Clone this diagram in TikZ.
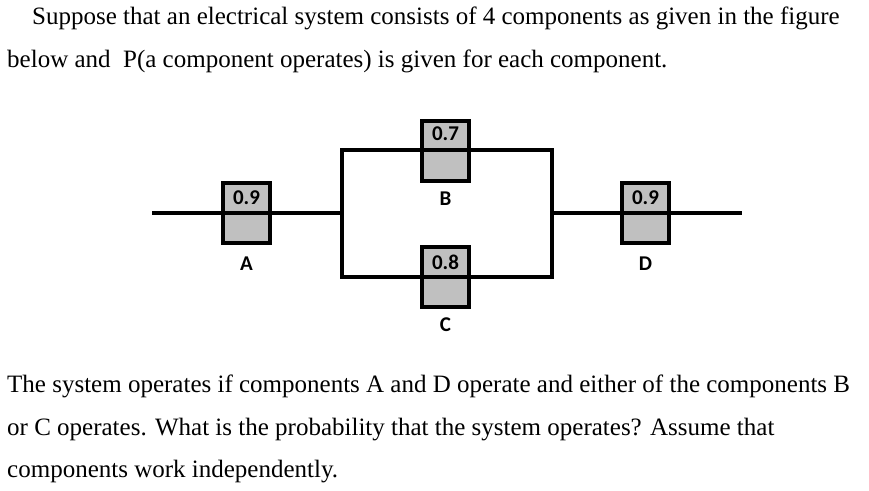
\documentclass[tikz,border=0pt]{standalone}
\usepackage{fontspec}
\setmainfont{Liberation Serif}
\newfontfamily\lblfont{Carlito}
\begin{document}
\begin{tikzpicture}[x=1pt,y=-1pt,
  comp/.style={draw,line width=4pt,fill={rgb,255:red,192;green,192;blue,192},minimum width=47pt,minimum height=60pt,inner sep=0pt},
  wire/.style={line width=3.5pt},
  val/.style={font=\lblfont\bfseries\fontsize{21}{21}\selectfont},
  txt/.style={anchor=base west,inner sep=0pt,font=\fontsize{25}{28}\selectfont}]
\useasboundingbox (0,0) rectangle (869,490);
\node[txt] (t1) at (32,24) {Suppose that an electrical system consists of 4 components as given in the figure};
\node[txt] (t2) at (7,67) {below and\ \ P(a component operates) is given for each component.};
\node[txt] (t3) at (7,392) {The system operates if components A and D operate and either of the components B};
\node[txt] (t4) at (7,435) {or C operates. What is the probability that the system operates? Assume that};
\node[txt] (t5) at (7,477) {components work independently.};
\node[comp] (A) at (246.5,213) {};
\node[comp] (B) at (445.5,150.5) {};
\node[comp] (C) at (445.5,277) {};
\node[comp] (D) at (645.5,213) {};
\coordinate (L) at (152,213);
\coordinate (R) at (742,213);
\coordinate (p1) at (342,213);
\coordinate (p2) at (552,213);
\draw[wire] (L) -- (p1);
\draw[wire] (p2) -- (R);
\draw[wire] (342,150) rectangle (552,277);
\node[val] (a) at (246.5,198) {0.9};
\node[val] (b) at (445.5,134) {0.7};
\node[val] (c) at (445.5,262) {0.8};
\node[val] (d) at (645.5,198) {0.9};
\node[val] (la) at (246.5,264) {A};
\node[val] (lb) at (445.5,199) {B};
\node[val] (lc) at (445.5,325) {C};
\node[val] (ld) at (645.5,264) {D};
\end{tikzpicture}
\end{document}
